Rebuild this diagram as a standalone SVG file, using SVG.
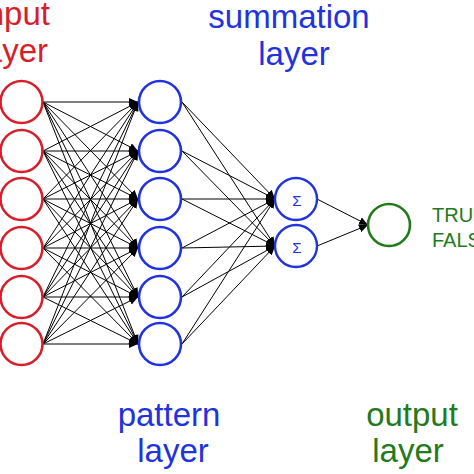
<svg xmlns="http://www.w3.org/2000/svg" width="474" height="474" viewBox="0 0 474 474">
<defs>
<marker id="ah" markerWidth="9" markerHeight="8" refX="9" refY="4" orient="auto" markerUnits="userSpaceOnUse">
<path d="M0,0 L9,4 L0,8 Z" fill="#000"/>
</marker>
<style>
.lbl{font-family:"Liberation Sans",Arial,sans-serif;font-size:33px}
.in{fill:none;stroke:#d61f2b;stroke-width:2.6}
.pt{fill:none;stroke:#2233dd;stroke-width:2.6}
.sm{fill:none;stroke:#2233dd;stroke-width:2.4}
.out{fill:none;stroke:#237a1b;stroke-width:2.6}
.c line{stroke:#000;stroke-width:1;marker-end:url(#ah)}
</style>
</defs>
<rect width="474" height="474" fill="#fff"/>
<g class="c" id="connectors">
<line x1="43" y1="102" x2="138" y2="102"/><line x1="43" y1="102" x2="138" y2="151"/><line x1="43" y1="102" x2="138" y2="199"/><line x1="43" y1="102" x2="138" y2="248"/><line x1="43" y1="102" x2="138" y2="297"/><line x1="43" y1="102" x2="138" y2="344"/>
<line x1="43" y1="151" x2="138" y2="102"/><line x1="43" y1="151" x2="138" y2="151"/><line x1="43" y1="151" x2="138" y2="199"/><line x1="43" y1="151" x2="138" y2="248"/><line x1="43" y1="151" x2="138" y2="297"/><line x1="43" y1="151" x2="138" y2="344"/>
<line x1="43" y1="199" x2="138" y2="102"/><line x1="43" y1="199" x2="138" y2="151"/><line x1="43" y1="199" x2="138" y2="199"/><line x1="43" y1="199" x2="138" y2="248"/><line x1="43" y1="199" x2="138" y2="297"/><line x1="43" y1="199" x2="138" y2="344"/>
<line x1="43" y1="248" x2="138" y2="102"/><line x1="43" y1="248" x2="138" y2="151"/><line x1="43" y1="248" x2="138" y2="199"/><line x1="43" y1="248" x2="138" y2="248"/><line x1="43" y1="248" x2="138" y2="297"/><line x1="43" y1="248" x2="138" y2="344"/>
<line x1="43" y1="297" x2="138" y2="102"/><line x1="43" y1="297" x2="138" y2="151"/><line x1="43" y1="297" x2="138" y2="199"/><line x1="43" y1="297" x2="138" y2="248"/><line x1="43" y1="297" x2="138" y2="297"/><line x1="43" y1="297" x2="138" y2="344"/>
<line x1="43" y1="344" x2="138" y2="102"/><line x1="43" y1="344" x2="138" y2="151"/><line x1="43" y1="344" x2="138" y2="199"/><line x1="43" y1="344" x2="138" y2="248"/><line x1="43" y1="344" x2="138" y2="297"/><line x1="43" y1="344" x2="138" y2="344"/>
<line x1="182" y1="102" x2="275" y2="199"/><line x1="182" y1="102" x2="275" y2="246"/>
<line x1="182" y1="151" x2="275" y2="199"/><line x1="182" y1="151" x2="275" y2="246"/>
<line x1="182" y1="199" x2="275" y2="199"/><line x1="182" y1="199" x2="275" y2="246"/>
<line x1="182" y1="248" x2="275" y2="199"/><line x1="182" y1="248" x2="275" y2="246"/>
<line x1="182" y1="297" x2="275" y2="199"/><line x1="182" y1="297" x2="275" y2="246"/>
<line x1="182" y1="344" x2="275" y2="199"/><line x1="182" y1="344" x2="275" y2="246"/>
<line x1="317" y1="199" x2="368" y2="225"/><line x1="317" y1="246" x2="368" y2="225"/>
</g>
<g id="input-layer">
<circle class="in" cx="21.5" cy="102" r="21"/>
<circle class="in" cx="21.5" cy="151" r="21"/>
<circle class="in" cx="21.5" cy="199" r="21"/>
<circle class="in" cx="21.5" cy="248" r="21"/>
<circle class="in" cx="21.5" cy="297" r="21"/>
<circle class="in" cx="21.5" cy="344" r="21"/>
<text class="lbl" fill="#d61f2b" text-anchor="end" x="50" y="25">input</text>
<text class="lbl" fill="#d61f2b" text-anchor="end" x="48" y="62">layer</text>
</g>
<g id="pattern-layer">
<circle class="pt" cx="160" cy="102" r="21"/>
<circle class="pt" cx="160" cy="151" r="21"/>
<circle class="pt" cx="160" cy="199" r="21"/>
<circle class="pt" cx="160" cy="248" r="21"/>
<circle class="pt" cx="160" cy="297" r="21"/>
<circle class="pt" cx="160" cy="344" r="21"/>
<text class="lbl" fill="#2233dd" text-anchor="middle" x="169" y="426">pattern</text>
<text class="lbl" fill="#2233dd" text-anchor="middle" x="173" y="462">layer</text>
</g>
<g id="summation-layer">
<circle class="sm" cx="296" cy="199" r="21"/>
<circle class="sm" cx="296" cy="246" r="21"/>
<text fill="#2233dd" font-family="Liberation Sans, Arial, sans-serif" font-size="15" text-anchor="middle" x="297" y="206">Σ</text>
<text fill="#2233dd" font-family="Liberation Sans, Arial, sans-serif" font-size="15" text-anchor="middle" x="297" y="253">Σ</text>
<text class="lbl" fill="#2233dd" text-anchor="middle" x="289" y="28">summation</text>
<text class="lbl" fill="#2233dd" text-anchor="middle" x="294" y="65">layer</text>
</g>
<g id="output-layer">
<circle class="out" cx="389" cy="225" r="21"/>
<text fill="#237a1b" font-family="Liberation Sans, Arial, sans-serif" font-size="20" x="432" y="222">TRUE</text>
<text fill="#237a1b" font-family="Liberation Sans, Arial, sans-serif" font-size="20" x="432" y="247">FALSE</text>
<text class="lbl" fill="#237a1b" text-anchor="middle" x="412" y="426">output</text>
<text class="lbl" fill="#237a1b" text-anchor="middle" x="408" y="462">layer</text>
</g>
</svg>
